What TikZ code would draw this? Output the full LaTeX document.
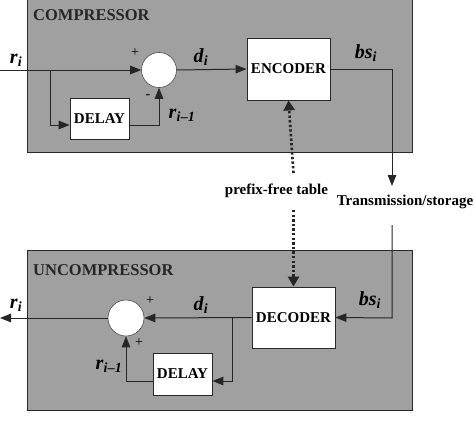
\documentclass[tikz,border=0pt]{standalone}
\usepackage{fontspec}
\setmainfont{Liberation Serif}
\usetikzlibrary{arrows.meta,calc}
\definecolor{panelgray}{RGB}{160,160,160}
\definecolor{edgegray}{RGB}{40,40,40}
\newcommand{\mylbl}[2]{\textbf{\textit{#1}}\textsubscript{\textbf{\textit{#2}}}}
\begin{document}
\begin{tikzpicture}[x=1pt,y=-1pt,
  panel/.style={draw=edgegray,line width=1pt,fill=panelgray},
  blockbox/.style={draw=edgegray,line width=0.9pt,fill=white,inner sep=0pt,font=\bfseries\fontsize{15}{16}\selectfont},
  sumnode/.style={circle,draw=gray!60!black,line width=0.6pt,fill=white,minimum size=35pt,inner sep=0pt},
  conn/.style={draw=black!85,line width=1pt},
  arr/.style={conn,-{Triangle[length=11pt,width=8.5pt]}},
  dotarr/.style={draw=black!85,line width=2.6pt,dash pattern=on 2.4pt off 2.2pt,-{Triangle[length=10pt,width=11pt]}},
  plain/.style={font=\bfseries\fontsize{15}{16}\selectfont,inner sep=0pt},
  title/.style={font=\bfseries\fontsize{16.5}{18}\selectfont,text=black!85,inner sep=0pt,anchor=west},
  sig/.style={font=\fontsize{20}{21}\selectfont,inner sep=0pt},
  sgn/.style={font=\fontsize{14}{15}\selectfont,inner sep=0pt}]
\useasboundingbox (0,0) rectangle (474,439);
% panels
\draw[panel] (27,-2) rectangle (412,152);
\draw[panel] (27,250) rectangle (412,410);
\node[title] (tc) at (33,15) {COMPRESSOR};
\node[title] (tu) at (33,270) {UNCOMPRESSOR};
% compressor
\node[sumnode] (c1) at (159,70) {};
\node[blockbox,minimum width=59pt,minimum height=41pt] (d1) at (99.5,118.5) {DELAY};
\node[blockbox,minimum width=83pt,minimum height=62pt] (enc) at (288.5,69) {ENCODER};
\coordinate (in) at (0,70);
\coordinate (b1) at (50,70);
\draw[arr] (in) -- (c1.west);
\draw[arr] (b1) |- ([yshift=-6.5pt]d1.west);
\draw[arr] ([yshift=-6.5pt]d1.east) -| (c1.south);
\draw[arr] (c1.east) -- (enc.west);
\node[sig] (lri1) at (16,60) {\mylbl{r}{i}};
\node[sig] (ld1) at (201,57) {\mylbl{d}{i}};
\node[sig] (lr1) at (182,115) {\mylbl{r}{i\hspace{0.5pt}–1}};
\node[sig] (lbs1) at (366,53) {\mylbl{bs}{i}};
\node[sgn] (p1) at (135,53) {+};
\node[sgn] (m1) at (148,97) {-};
% decoder and table
\node[blockbox,minimum width=83pt,minimum height=61pt] (dec) at (293.5,317.5) {DECODER};
\node[plain] (pft) at (276.5,191) {prefix-free table};
\draw[dotarr] (293.5,173) -- (enc.south);
\draw[dotarr] (293.5,210) -- (dec.north);
% transmission
\node[plain] (ts) at (405,202) {Transmission/storage};
\coordinate (tc1) at (392,69);
\coordinate (ta) at (392,186);
\coordinate (tb) at (392,225);
\coordinate (tc2) at (392,318);
\draw[arr] (enc.east) -- (tc1) -- (ta);
\draw[arr] (tb) -- (tc2) -- (dec.east);
% uncompressor
\node[sumnode,minimum size=36pt] (c2) at (126,318) {};
\node[blockbox,minimum width=59pt,minimum height=42pt] (d2) at (182.5,374) {DELAY};
\coordinate (out) at (0,318);
\coordinate (b2) at (232,318);
\draw[arr] (dec.west) -- (c2.east);
\draw[arr] (c2.west) -- (out);
\draw[arr] (b2) |- ([yshift=-7pt]d2.east);
\draw[arr] ([yshift=-7pt]d2.west) -| (c2.south);
\node[sig] (lri2) at (16,305) {\mylbl{r}{i}};
\node[sig] (ld2) at (201,305) {\mylbl{d}{i}};
\node[sig] (lr2) at (109,366) {\mylbl{r}{i\hspace{0.5pt}–1}};
\node[sig] (lbs2) at (370,300) {\mylbl{bs}{i}};
\node[sgn] (p2) at (150,301) {+};
\node[sgn] (p3) at (139,343) {+};
\end{tikzpicture}
\end{document}
